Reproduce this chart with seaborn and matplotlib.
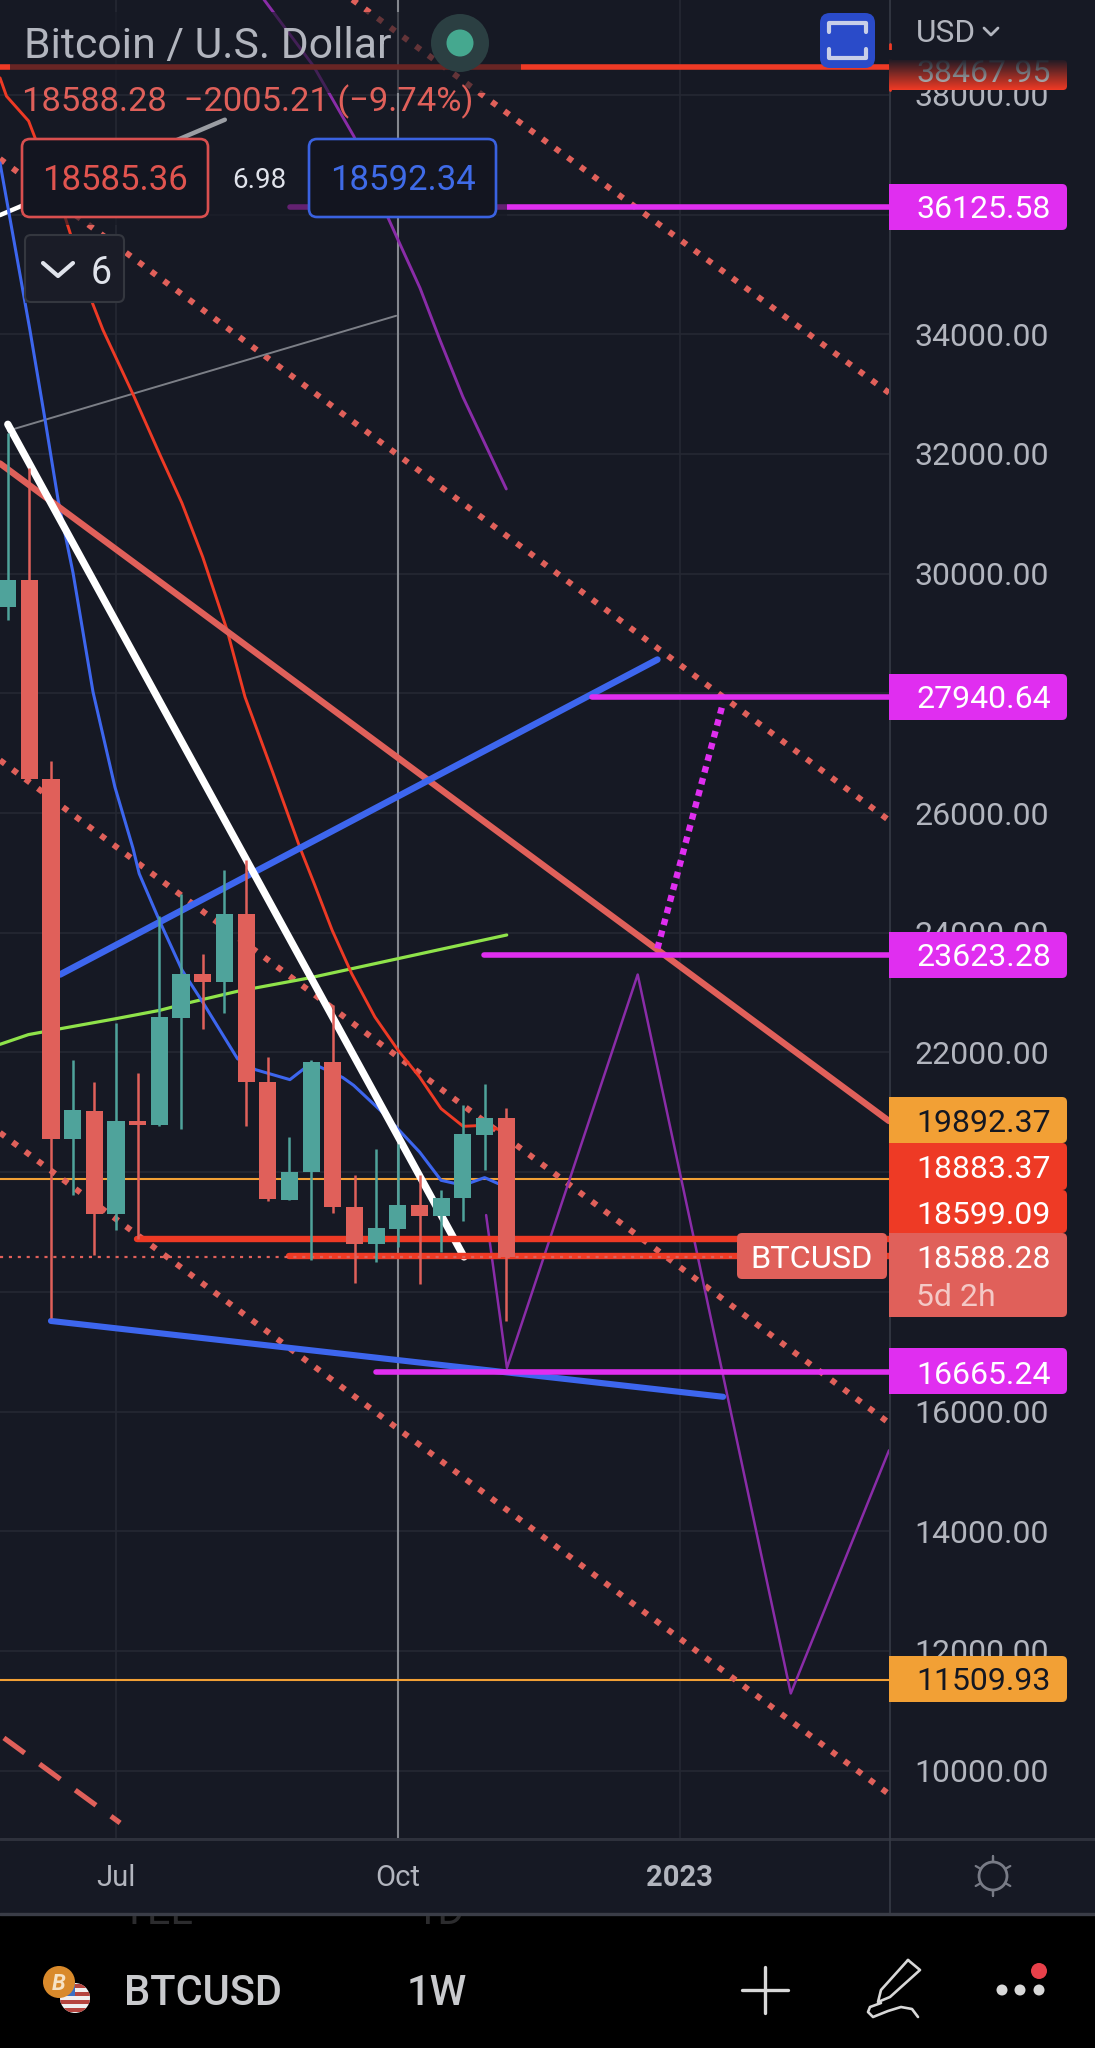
import numpy as np
import pandas as pd
import matplotlib
matplotlib.use('Agg')
import matplotlib.pyplot as plt
import seaborn as sns
from matplotlib.patches import FancyBboxPatch, Circle, Rectangle

BG = '#161924'
GRID = '#252833'
BORDER = '#363a45'
TICK = '#b2b5be'
UP = '#4fa39b'
DOWN = '#e0605a'
RED = '#ee3a25'
ORANGE = '#f2a035'
MAGENTA = '#e02ef0'
BLUE = '#3d66ee'
PURPLE = '#8a2ca8'

# weekly candles, week 0 = Jul
weeks = list(range(-5, 19))
opens = [29442, 29893, 26563, 20548, 21022, 19295, 20855, 20782, 22581, 23305, 23171, 24308,
         21512, 19540, 20002, 21835, 19418, 18805, 19056, 19445, 19262, 19574, 20620, 20910]
closes = [29893, 26563, 20548, 21033, 19295, 20855, 20782, 22592, 23305, 23171, 24308, 21512,
          19557, 20002, 21835, 19418, 18805, 19072, 19445, 19262, 19574, 20632, 20910, 18588]
highs = [32349, 31764, 26869, 21868, 21512, 22492, 21662, 24285, 24653, 23650, 25043, 25210,
         21924, 20587, 21868, 22798, 19958, 20392, 20476, 19958, 19707, 21116, 21478, 21077]
lows = [29224, 26563, 17569, 19612, 18621, 19039, 18888, 20765, 20726, 22397, 22665, 20771,
        19518, 19540, 18538, 19317, 18153, 18499, 18750, 18137, 18660, 19178, 20030, 17507]

# moving averages
green_w = [-5.35, -4.04, -2.55, 0, 2.03, 3.38, 5.6, 8.98, 13.01, 18.02]
green_p = [22135, 22297, 22397, 22564, 22704, 22832, 23021, 23249, 23567, 23962]
blue_w = [-5.35, -3.97, -3.27, -2.67, -1.98, -1.06, -0.05, 0.78, 1.07, 2.03, 3.05, 4.04, 5.6,
          6.43, 8.02, 9.01, 10.46, 10.96, 12.27, 14.0, 14.99, 16.01, 17.0, 17.63]
blue_p = [36863, 34070, 32566, 31230, 30010, 28022, 26434, 25415, 24987, 24179, 23372, 22815,
          21896, 21712, 21545, 21824, 21579, 21450, 21005, 20336, 19863, 19780, 19908, 19807]
red_w = [-5.35, -5.05, -4.03, -3.73, -2.34, -1.07, -0.6, 0.8, 2.03, 3.04, 4.0, 5.12, 5.95, 7.24,
         8.49, 9.14, 9.97, 10.87, 11.94, 13.01, 14.0, 14.99, 16.01, 17, 18.02]
red_p = [38283, 37977, 37562, 37278, 35946, 34504, 34070, 32985, 31982, 31180, 30277, 29058,
         27938, 26668, 25415, 24820, 24040, 23316, 22592, 22035, 21590, 21061, 20765, 20782, 20671]
purple_w = [6.82, 9.11, 10.98, 12.55, 13.01, 14.02, 14.94, 16.0, 18.0]
purple_p = [39593, 38479, 37300, 35942, 35574, 34772, 33903, 32951, 31414]

# drawn lines
proj_w = [17.07, 18.03, 24.06, 31.12, 35.65]
proj_p = [19282, 16727, 23301, 11289, 15351]
channels = [([10.9, 35.65], [39590, 33020]),
            ([-5.35, 35.65], [36929, 25878]),
            ([-5.35, 35.65], [26882, 15809]),
            ([-5.35, 35.65], [20658, 9607])]
dash_w = [-5.17, 0.19]
dash_p = [10546, 9126]
salmon_w = [-5.35, 35.65]
salmon_p = [31840, 20854]
white_w = [-4.99, 16.05]
white_p = [32495, 18583]
blue_up_w = [-2.58, 24.97]
blue_up_p = [23301, 28564]
blue_low_w = [-3.0, 28.0]
blue_low_p = [17513, 16246]
gray_w = [-4.99, 12.92]
gray_p = [32386, 34308]
gray2_w = [-5.35, -4.2, 5.02]
gray2_p = [35990, 36167, 37584]
target_w = [24.97, 28.0]
target_p = [23737, 27843]

# horizontal levels: price, first week
magenta_levels = [36125.58, 27940.64, 23623.28, 16665.24]
magenta_start = [8.03, 21.96, 16.96, 12.01]
red_levels = [18883.37, 18599.09]
red_start = [0.98, 8.0]
top_level = 38467.95
orange_levels = [19892.37, 11509.93]
last_price = 18588.28

price_ticks = list(range(10000, 40000, 2000))
time_ticks = [0, 13, 26]
time_labels = ['Jul', 'Oct', '2023']

sns.set_theme(style='dark', rc={'figure.facecolor': BG, 'axes.facecolor': BG})
plt.rcParams['font.family'] = ['Roboto', 'DejaVu Sans']

fig = plt.figure(figsize=(10.95, 20.48), dpi=100)
ax = fig.add_axes([0, 1 - 1838 / 2048, 889 / 1095, 1838 / 2048])
ax.set_xlim(-5.35, 35.65)
ax.set_ylim(8874, 39584)
for s in ax.spines.values():
    s.set_visible(False)

ax.set_yticks(price_ticks)
ax.set_yticklabels(['%.2f' % p for p in price_ticks], fontsize=23, color=TICK)
ax.yaxis.tick_right()
ax.tick_params(axis='y', length=0, pad=18.5)
ax.set_xticks(time_ticks)
ax.set_xticklabels(time_labels, fontsize=21, color=TICK)
ax.get_xticklabels()[2].set_fontweight('bold')
ax.tick_params(axis='x', length=0, pad=18.5)
ax.grid(True, color=GRID, lw=1.2)
ax.set_axisbelow(True)


def draw(w, p, color, lw, z=2, **kw):
    df = pd.DataFrame({'week': w, 'price': p})
    sns.lineplot(data=df, x='week', y='price', ax=ax, color=color, lw=lw, zorder=z,
                 estimator=None, sort=False, legend=False, **kw)


ax.axvline(13, color='#85888f', lw=1.5, zorder=1.5)
for lvl in orange_levels:
    draw([-5.35, 35.65], [lvl, lvl], ORANGE, 1.5)
for w, p in channels:
    draw(w, p, DOWN, 4.3, linestyle=(0, (1, 1.63)), dash_capstyle='butt')
draw(dash_w, dash_p, DOWN, 3.7, linestyle=(0, (5, 3.6)), dash_capstyle='butt')
draw(purple_w, purple_p, PURPLE, 2.1)
draw(proj_w, proj_p, PURPLE, 1.8)
draw(gray_w, gray_p, '#7c7f87', 1.4)
draw(gray2_w[1:], gray2_p[1:], '#9a9da3', 3.2)
draw(gray2_w[:2], gray2_p[:2], 'white', 3.2)
draw(green_w, green_p, '#8fe34a', 2.3)
draw(blue_w, blue_p, BLUE, 2.2)
draw(red_w, red_p, RED, 2.1)
draw(salmon_w, salmon_p, DOWN, 4.6)
draw(blue_up_w, blue_up_p, BLUE, 4.7)
draw(blue_low_w, blue_low_p, BLUE, 4.4)
draw(white_w, white_p, 'white', 5.3)
for lvl, st in zip(magenta_levels, magenta_start):
    draw([st, 35.65], [lvl, lvl], MAGENTA, 4.0)
draw(target_w, target_p, MAGENTA, 4.6, linestyle=(0, (1, 0.9)), dash_capstyle='butt')
for lvl, st in zip(red_levels, red_start):
    draw([st, 35.65], [lvl, lvl], RED, 4.6)
draw([-5.35, 35.65], [top_level, top_level], RED, 4.0)
draw([-5.35, 35.65], [last_price, last_price], DOWN, 1.6, z=3, linestyle=(0, (1.4, 2.6)), dash_capstyle='butt')

# candles
candles = pd.DataFrame({'week': weeks, 'open': opens, 'close': closes, 'high': highs, 'low': lows})
candles['color'] = np.where(candles['close'] >= candles['open'], UP, DOWN)
ax.vlines(candles['week'], candles['low'], candles['high'], colors=candles['color'], lw=1.8, zorder=5)
ax.bar(candles['week'], (candles['close'] - candles['open']).abs(),
       bottom=candles[['open', 'close']].min(axis=1), width=0.79,
       color=candles['color'], linewidth=0, zorder=6)
ax.set_xlabel('')
ax.set_ylabel('')

# overlay in screen pixels for the app chrome
ov = fig.add_axes([0, 0, 1, 1], zorder=10)
ov.patch.set_alpha(0)
ov.set_axis_off()


def txt(x, y, s, size, color, ha='left', **kw):
    return ov.text(x, y, s, fontsize=size, color=color, ha=ha, va='center_baseline', **kw)


def box(x0, y0, x1, y1, fc, ec='none', r=6, lw=1.5, alpha=None, z=2):
    p = FancyBboxPatch((x0 + r, y0 + r), x1 - x0 - 2 * r, y1 - y0 - 2 * r,
                       boxstyle='round,pad=%d,rounding_size=%d' % (r, r),
                       fc=fc, ec=ec, lw=lw, alpha=alpha, zorder=z, mutation_aspect=1)
    ov.add_patch(p)
    return p


# translucent backing of the legend rows
for x0, y0, x1, y1 in [(10, 12, 521, 93), (290, 195, 507, 218), (25, 235, 125, 303), (22, 139, 290, 225)]:
    ov.add_patch(Rectangle((x0, y0), x1 - x0, y1 - y0, fc=BG, ec='none', alpha=0.62, zorder=1))

# lower panels
ov.plot([0, 1095], [1839, 1839], color='#2e313c', lw=2.2, zorder=1)
ov.plot([889.5, 889.5], [0, 1913], color=BORDER, lw=1.2, zorder=1)
ov.add_patch(Rectangle((0, 1914), 1095, 134, fc='black', ec='none', zorder=1))
ov.plot([0, 1095], [1913.5, 1913.5], color='#3a3d47', lw=2.4, zorder=2)

# price tags
tags = [(1097, 1143, ORANGE, '19892.37', '#131722', 1120),
        (1143, 1190, RED, '18883.37', 'white', 1166),
        (1190, 1233, RED, '18599.09', 'white', 1212),
        (1233, 1317, DOWN, '18588.28', 'white', 1257),
        (1348, 1394, MAGENTA, '16665.24', 'white', 1372),
        (184, 230, MAGENTA, '36125.58', 'white', 207),
        (674, 720, MAGENTA, '27940.64', 'white', 697),
        (932, 978, MAGENTA, '23623.28', 'white', 955),
        (1656, 1702, ORANGE, '11509.93', '#131722', 1679)]
for y0, y1, col, s, tc, yc in tags:
    ov.add_patch(Rectangle((889, y0), 172, y1 - y0, fc=col, ec='none', zorder=3))
    box(1040, y0, 1067, y1, col, r=5, z=3)
    txt(916, yc, s, 23, tc, zorder=4)
txt(916, 1294, '5d 2h', 23, '#f4c9c6', zorder=4)

# cut-off tag under the header
ov.plot([889.5, 889.5], [44, 90], color=RED, lw=2, zorder=3)
box(889, 60, 1067, 90, RED, r=4, z=3)
txt(916, 70, '38467.95', 23, '#d8d8d8', zorder=4)
fade = np.zeros((40, 2, 4))
fade[..., :3] = matplotlib.colors.to_rgb(BG)
fade[..., 3] = np.concatenate([np.ones(8), np.linspace(1, 0, 32)])[:, None]
ov.imshow(fade, extent=(889, 1070, 90, 50), aspect='auto', zorder=5)
txt(916, 31, 'USD', 22.8, TICK, zorder=6)
ov.plot([984, 991, 998], [28, 35, 28], color=TICK, lw=2, zorder=6)

box(737, 1233, 887, 1279, DOWN, r=5, z=3)
txt(812, 1256, 'BTCUSD', 23.4, 'white', ha='center', zorder=4)

# header
txt(24, 42, 'Bitcoin / U.S. Dollar', 30.8, TICK, zorder=6)
txt(22, 98, '18588.28  \u22122005.21 (\u22129.74%)', 24.8, DOWN, zorder=6)
ov.add_patch(Circle((460, 43), 29, fc='#2b3f42', ec='none', zorder=5))
ov.add_patch(Circle((460, 43), 13.5, fc='#45a88f', ec='none', zorder=6))
box(820, 13, 875, 68, '#2a4bc9', r=10, z=5)
for xs, ys in [([829, 829, 866, 866], [32, 23, 23, 32]), ([829, 829, 866, 866], [49, 58, 58, 49])]:
    ov.plot(xs, ys, color='#c8cfe8', lw=3, zorder=6, solid_joinstyle='round')

box(22, 139, 208, 217, '#131520', ec='#d94f4f', r=8, lw=1.9, z=5)
txt(115, 177, '18585.36', 25, '#e0544f', ha='center', zorder=6)
txt(259, 177, '6.98', 20, '#e0e3eb', ha='center', zorder=6)
box(309, 139, 496, 217, '#131520', ec='#3a62e0', r=8, lw=1.9, z=5)
txt(403, 177, '18592.34', 25, '#3f6be8', ha='center', zorder=6)
box(25, 235, 124, 302, '#1a1c27', ec='#34373f', r=6, lw=1.5, z=5)
ov.plot([43, 58, 73], [263, 276, 263], color='#e0e3eb', lw=3, zorder=6)
txt(101, 269, '6', 27, '#e0e3eb', ha='center', zorder=6)

# gear
ov.add_patch(Circle((993, 1876), 14, fc='none', ec='#787b86', lw=2, zorder=3))
for a in np.arange(0, 360, 60) + 30:
    c, s = np.cos(np.radians(a)), np.sin(np.radians(a))
    ov.plot([993 + 14 * c, 993 + 20 * c], [1876 + 14 * s, 1876 + 20 * s], color='#787b86', lw=1.6, zorder=3)
ov.plot([993, 993], [1856, 1862], color='#787b86', lw=1.6, zorder=3)
ov.plot([993, 993], [1890, 1896], color='#787b86', lw=1.6, zorder=3)

# bottom bar, the list above and below scrolls out of sight
clip_top = Rectangle((0, 1916), 1095, 130, transform=ov.transData)
for x, y, s in [(157, 1908, 'TEL'), (440, 1908, '1D'), (157, 2064, 'TEL'), (440, 2064, '1W')]:
    t = txt(x, y, s, 30, '#2c2c2e', ha='center', zorder=3, clip_on=True)
    t.set_clip_path(clip_top)
flag = Circle((75, 1998), 15, fc='#f0f0f0', ec='none', zorder=3)
ov.add_patch(flag)
for i in range(4):
    stripe = Rectangle((58, 1984 + i * 8), 36, 4, fc='#b5453f', ec='none', zorder=3.1)
    ov.add_patch(stripe)
    stripe.set_clip_path(flag)
corner = Rectangle((58, 1982), 17, 14, fc='#3b6fc4', ec='none', zorder=3.2)
ov.add_patch(corner)
corner.set_clip_path(flag)
ov.add_patch(Circle((59, 1982), 16, fc='#d98a2b', ec='none', zorder=4))
txt(59, 1982, 'B', 16, '#f6e2c4', ha='center', zorder=5, fontweight='bold', style='italic')
txt(124, 1989, 'BTCUSD', 30, '#c9cacd', zorder=3, fontweight='medium')
txt(407, 1989, '1W', 30, '#c9cacd', zorder=3, fontweight='medium')
ov.plot([742, 788], [1990, 1990], color='#d8d8d8', lw=2.4, zorder=3)
ov.plot([765, 765], [1967, 2013], color='#d8d8d8', lw=2.4, zorder=3)
ov.plot([908, 920, 890, 878, 881, 908], [1960, 1970, 1997, 2002, 1990, 1960], color='#d8d8d8', lw=1.9, zorder=3)
ov.plot([881, 870, 868, 873, 888, 901, 912, 918], [2003, 2007, 2012, 2017, 2011, 2007, 2009, 2017],
        color='#d8d8d8', lw=1.9, zorder=3)
for x in [1002, 1020, 1039]:
    ov.add_patch(Circle((x, 1990), 5.5, fc='#d8d8d8', ec='none', zorder=3))
ov.add_patch(Circle((1039, 1971), 8, fc='#e8404a', ec='none', zorder=3))

ov.set_xlim(0, 1095)
ov.set_ylim(2048, 0)

fig.savefig('out.png', dpi=100, facecolor=BG)
